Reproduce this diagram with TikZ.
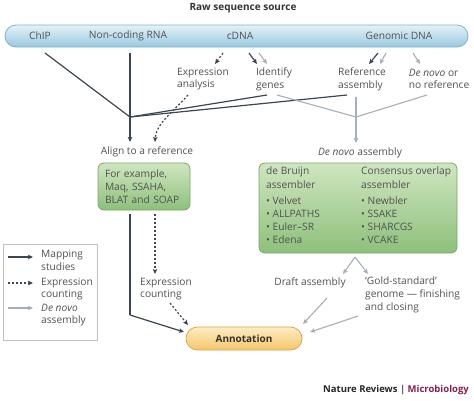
\documentclass[tikz,border=0pt]{standalone}
\usepackage{fontspec}
\setmainfont{Open Sans}
\usetikzlibrary{arrows.meta,calc}
\definecolor{dk}{HTML}{3B4651}
\definecolor{lg}{HTML}{A6AEB6}
\definecolor{txt}{HTML}{525252}
\definecolor{barT}{HTML}{E4F2F9}
\definecolor{barB}{HTML}{98C8DF}
\definecolor{barD}{HTML}{7DB2CC}
\definecolor{grT}{HTML}{CFE6C0}
\definecolor{grB}{HTML}{8DC07B}
\definecolor{grD}{HTML}{78A866}
\definecolor{anT}{HTML}{FDEDC4}
\definecolor{anB}{HTML}{F5C66A}
\definecolor{anD}{HTML}{DDA548}
\definecolor{mic}{HTML}{8C1F4F}
\tikzset{
  lbl/.style={text=txt, inner sep=0pt, align=left},
  darkline/.style={draw=dk, line width=1.2pt},
  darkarr/.style={darkline, -{Stealth[length=5pt,width=4.5pt,inset=1pt]}},
  dotline/.style={draw=dk, line width=1.2pt, dash pattern=on 2pt off 2pt},
  dotarr/.style={dotline, -{Stealth[length=5pt,width=4.5pt,inset=1pt]}},
  grayline/.style={draw=lg, line width=1.1pt},
  grayarr/.style={grayline, -{Stealth[length=5pt,width=4.5pt,inset=1pt]}},
  greenbox/.style={draw=grD, line width=0.8pt, rounded corners=6pt, top color=grT, bottom color=grB},
}
\begin{document}
\begin{tikzpicture}[x=1pt,y=-1pt, font=\fontsize{10.2}{12.8}\selectfont]
\useasboundingbox (0,0) rectangle (474,400);
% title and bar
\node[lbl, font=\fontsize{10}{12}\selectfont\bfseries, text=black!80] (title) at (243,8) {Raw sequence source};
\node[draw=barD, line width=0.8pt, top color=barT, bottom color=barB, rounded corners=11pt,
      minimum width=463pt, minimum height=22pt, inner sep=0pt] (bar) at (236.5,36) {};
\node[lbl] (chip) at (40,36) {ChIP};
\node[lbl] (ncrna) at (128,36) {Non-coding RNA};
\node[lbl] (cdna) at (240,36) {cDNA};
\node[lbl] (gdna) at (399,36) {Genomic DNA};
% second row labels
\node[lbl] (expr) at (203,79) {Expression\\analysis};
\node[lbl] (ident) at (274,79) {Identify\\genes};
\node[lbl] (refasm) at (362,79) {Reference\\assembly};
\node[lbl] (denovo) at (439,79) {\textit{De novo} or\\no reference};
% arrows from bar
\coordinate (E1) at (215,64);
\draw[dotarr] (223,53) -- (E1);
\draw[darkarr] (249,53) -- (257,64);
\draw[grayarr] (259,53) -- (267,64);
\draw[darkarr] (378,53) -- (369,64);
\draw[grayarr] (386,53) -- (380,64);
\draw[grayarr] (413,53) -- (420,64);
% junctions
\coordinate (J1) at (130,117);
\coordinate (J2) at (356,117);
\coordinate (A1) at (130,142);
\coordinate (A2) at (155,142);
\node[lbl] (align) at (147,152) {Align to a reference};
\node[lbl] (dnasm) at (360,153) {\textit{De novo} assembly};
\draw[darkline] (45,53) -- (J1);
\draw[darkline] (130,53) -- (J1);
\draw[darkline] (267,95) -- (J1);
\draw[darkline] (347,95) -- (J1);
\draw[darkarr] (J1) -- (A1);
\draw[dotarr] (188,95) .. controls (172,113) and (156,124) .. (A2);
\draw[grayline] (277,95) -- (J2);
\draw[grayline] (427,95) -- (J2);
\draw[grayline] (356,97) -- (J2);
\draw[grayarr] (J2) -- (356,143);
% green box 1
\node[greenbox, minimum width=92pt, minimum height=47pt, text width=78pt, inner xsep=7pt, inner ysep=0pt,
      align=left, text=txt, font=\fontsize{10.2}{13}\selectfont] (box1) at (144,186.5)
      {For example,\\Maq, SSAHA,\\BLAT and SOAP};
% green box 2
\node[greenbox, minimum width=198pt, minimum height=90pt] (box2) at (358,208) {};
\node[lbl, anchor=north west, font=\fontsize{10.2}{13.3}\selectfont] (col1) at (266,167)
  {de Bruijn\\assembler\\[2.5pt]\textbullet\ Velvet\\\textbullet\ ALLPATHS\\\textbullet\ Euler--SR\\\textbullet\ Edena};
\node[lbl, anchor=north west, font=\fontsize{10.2}{13.3}\selectfont] (col2) at (361,167)
  {Consensus overlap\\assembler\\[2.5pt]\textbullet\ Newbler\\\textbullet\ SSAKE\\\textbullet\ SHARCGS\\\textbullet\ VCAKE};
% lower labels
\node[lbl] (ecount) at (166,289) {Expression\\counting};
\node[lbl] (draft) at (310,283) {Draft assembly};
\node[lbl, anchor=north west] (gold) at (365,277) {`Gold-standard'\\genome --- finishing\\and closing};
\node[draw=anD, line width=0.8pt, top color=anT, bottom color=anB, rounded corners=11.5pt,
      minimum width=116pt, minimum height=23pt, inner sep=0pt, text=black!80,
      font=\fontsize{10}{12}\selectfont\bfseries] (annot) at (244,338.5) {Annotation};
% connectors lower
\coordinate (K0) at (130,214);
\coordinate (K1) at (130,315);
\draw[darkline] (K0) -- (K1);
\draw[darkarr] (K1) -- (184,332);
\coordinate (D0) at (155,214);
\coordinate (D1) at (155,274);
\draw[dotarr] (D0) -- (D1);
\draw[dotarr] (170,303) -- (188,325);
\coordinate (K2) at (355,257);
\draw[grayarr] (K2) -- (343,274);
\draw[grayarr] (K2) -- (368,274);
\draw[grayarr] (327,298) -- (303,324);
\draw[grayarr] (358,316) -- (310,332);
% legend
\node[draw=black!25, line width=0.8pt, minimum width=94pt, minimum height=96pt, inner sep=0pt] (legend) at (50,292) {};
\coordinate (L1a) at (8,257); \coordinate (L1b) at (33,257);
\coordinate (L2a) at (8,283); \coordinate (L2b) at (33,283);
\coordinate (L3a) at (8,308); \coordinate (L3b) at (33,308);
\draw[darkarr] (L1a) -- (L1b);
\draw[dotarr] (L2a) -- (L2b);
\draw[grayarr] (L3a) -- (L3b);
\node[lbl, anchor=west] (lg1) at (41,260) {Mapping\\studies};
\node[lbl, anchor=west] (lg2) at (41,289) {Expression\\counting};
\node[lbl, anchor=west] (lg3) at (41,315) {\textit{De novo}\\assembly};
% footer
\node[lbl, anchor=east, font=\fontsize{9.5}{11}\selectfont\bfseries] (footer) at (469,390)
  {\textcolor{black!85}{Nature Reviews} \textcolor{black!70}{|} \textcolor{mic}{Microbiology}};
\end{tikzpicture}
\end{document}
